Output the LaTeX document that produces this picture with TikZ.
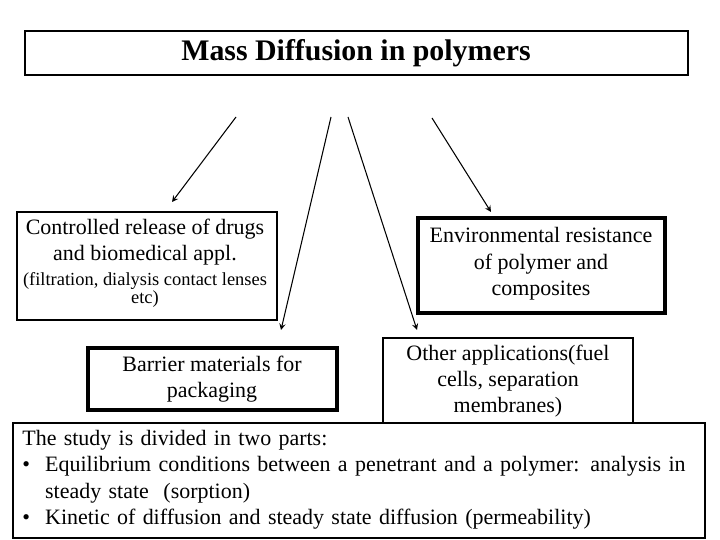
\documentclass[tikz,border=0pt]{standalone}
\usepackage{fontspec}
\setmainfont{Liberation Serif}
\usetikzlibrary{arrows}
\tikzstyle{arrow} = [semithick,->,>=stealth]
\tikzstyle{thinbox} = [draw,semithick,inner sep=0pt]
\tikzstyle{thickbox} = [draw,line width=1.8pt,inner sep=0pt]
\tikzstyle{body} = [align=center,font=\fontsize{12.5}{15}\selectfont]
\begin{document}
\begin{tikzpicture}[x=0.02cm,y=-0.02cm]
	\useasboundingbox (0,0) rectangle (720,540);
	% Boxes:
	\draw[thinbox] (25,31) rectangle (688,75);
	\node[font=\fontsize{17}{20}\selectfont\bfseries] (title) at (356,53) {Mass Diffusion in polymers};
	
	\draw[thinbox] (17,212) rectangle (277,320);
	\node[body] (drugs) at (145,242) {Controlled release of drugs\\and biomedical appl.};
	\node[align=center,font=\fontsize{10.5}{8.5}\selectfont] (filt) at (145,290) {(filtration, dialysis contact lenses\\etc)};
	
	\draw[thickbox] (418,218) rectangle (665,313);
	\node[body] (env) at (541,264) {Environmental resistance\\of polymer and\\composites};
	
	\draw[thickbox] (88,348) rectangle (337,410);
	\node[body] (barrier) at (212,379) {Barrier materials for\\packaging};
	
	\draw[thinbox] (383,338) rectangle (633,425);
	\node[body] (other) at (508,381) {Other applications(fuel\\cells, separation\\membranes)};
	
	\draw[thinbox,fill=white] (13,423) rectangle (705,538);
	\node[anchor=north west,align=left,text width=392pt,inner sep=0pt,font=\fontsize{12.5}{15}\selectfont] (study) at (22,430) {%
		The study is divided in two parts:\par
		\hangindent=13pt\hangafter=1 \makebox[13pt][l]{\textbullet}Equilibrium conditions between a penetrant and a polymer: analysis in steady state \ (sorption)\par
		\hangindent=13pt\hangafter=1 \makebox[13pt][l]{\textbullet}Kinetic of diffusion and steady state diffusion (permeability)};
	
	% Arrows:
	\coordinate (a1) at (236,117); \coordinate (b1) at (172,202);
	\coordinate (a2) at (331,117); \coordinate (b2) at (281,330);
	\coordinate (a3) at (348,117); \coordinate (b3) at (417,330);
	\coordinate (a4) at (432,118); \coordinate (b4) at (491,212);
	\foreach \n in {1,...,4}{%
		\draw[arrow] (a\n) -- (b\n);
	}
\end{tikzpicture}
\end{document}
